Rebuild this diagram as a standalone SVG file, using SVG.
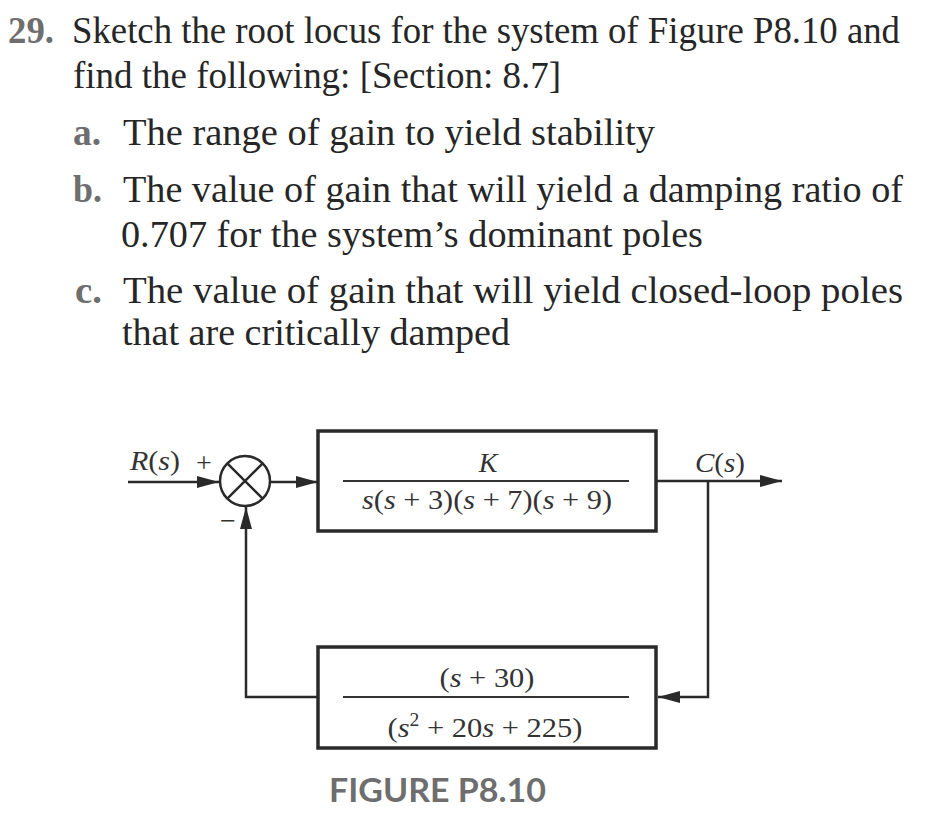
<svg xmlns="http://www.w3.org/2000/svg" width="942" height="828" viewBox="0 0 942 828">
<defs>
<style>
.t{font-family:"Liberation Serif","Times New Roman",serif;font-size:38px;fill:#262626}
.lb{font-family:"Liberation Serif","Times New Roman",serif;font-size:38px;font-weight:bold;fill:#6e6e6e}
.m{font-family:"Liberation Serif","Times New Roman",serif;font-size:28px;fill:#333}
.i{font-style:italic}
.box{fill:none;stroke:#2a2a2a;stroke-width:3.5}
.ln{fill:none;stroke:#2a2a2a;stroke-width:2.5}
.fr{stroke:#333;stroke-width:2}
.cap{font-family:Lato,"Open Sans",sans-serif;font-weight:700;font-size:32px;fill:#6e6e6e}
</style>
<marker id="ah" markerUnits="userSpaceOnUse" markerWidth="24" markerHeight="14" refX="22" refY="6" orient="auto">
<path d="M0,0 L22,6 L0,12 z" fill="#2a2a2a"/>
</marker>
</defs>
<rect width="942" height="828" fill="#fff"/>

<g id="question">
<text class="lb" x="8" y="43" textLength="46" lengthAdjust="spacingAndGlyphs">29.</text>
<text class="t" x="72" y="43" textLength="828" lengthAdjust="spacingAndGlyphs">Sketch the root locus for the system of Figure P8.10 and</text>
<text class="t" x="73" y="88" textLength="488" lengthAdjust="spacingAndGlyphs">find the following: [Section: 8.7]</text>
<text class="lb" x="73" y="145" textLength="28" lengthAdjust="spacingAndGlyphs">a.</text>
<text class="t" x="123" y="145" textLength="532" lengthAdjust="spacingAndGlyphs">The range of gain to yield stability</text>
<text class="lb" x="73" y="202" textLength="29" lengthAdjust="spacingAndGlyphs">b.</text>
<text class="t" x="123" y="202" textLength="780" lengthAdjust="spacingAndGlyphs">The value of gain that will yield a damping ratio of</text>
<text class="t" x="121" y="247" textLength="582" lengthAdjust="spacingAndGlyphs">0.707 for the system’s dominant poles</text>
<text class="lb" x="75" y="303" textLength="27" lengthAdjust="spacingAndGlyphs">c.</text>
<text class="t" x="123" y="303" textLength="780" lengthAdjust="spacingAndGlyphs">The value of gain that will yield closed-loop poles</text>
<text class="t" x="122" y="345" textLength="388" lengthAdjust="spacingAndGlyphs">that are critically damped</text>
</g>

<g id="connectors">
<path class="ln" d="M128,482 H219" marker-end="url(#ah)"/>
<path class="ln" d="M271,482 H318" marker-end="url(#ah)"/>
<path class="ln" d="M656,481 H782" marker-end="url(#ah)"/>
<path class="ln" d="M708,481 V697 H658" marker-end="url(#ah)"/>
<path class="ln" d="M318,697 H246 V507" marker-end="url(#ah)"/>
</g>

<g id="input-label">
<text class="m" x="130" y="470" textLength="50" lengthAdjust="spacingAndGlyphs"><tspan class="i">R</tspan>(<tspan class="i">s</tspan>)</text>
<text class="m" x="196" y="472">+</text>
<text class="m" x="220" y="530">−</text>
</g>

<g id="sum">
<circle cx="245" cy="481" r="25" fill="#fff" stroke="#2a2a2a" stroke-width="2.5"/>
<path class="ln" d="M227.3,463.3 L262.7,498.7 M262.7,463.3 L227.3,498.7"/>
</g>

<g id="plant">
<rect class="box" x="318" y="431" width="338" height="100" fill="#fff"/>
<text class="m i" x="488" y="472" text-anchor="middle">K</text>
<line class="fr" x1="343" y1="481" x2="629" y2="481"/>
<text class="m" x="487" y="509" text-anchor="middle" textLength="250" lengthAdjust="spacingAndGlyphs"><tspan class="i">s</tspan>(<tspan class="i">s</tspan> + 3)(<tspan class="i">s</tspan> + 7)(<tspan class="i">s</tspan> + 9)</text>
</g>

<g id="output-label">
<text class="m" x="695" y="472" textLength="50" lengthAdjust="spacingAndGlyphs"><tspan class="i">C</tspan>(<tspan class="i">s</tspan>)</text>
</g>

<g id="feedback">
<rect class="box" x="318" y="647" width="338" height="101" fill="#fff"/>
<text class="m" x="487" y="687" text-anchor="middle" textLength="95" lengthAdjust="spacingAndGlyphs">(<tspan class="i">s</tspan> + 30)</text>
<line class="fr" x1="343" y1="697" x2="629" y2="697"/>
<text class="m" x="485" y="737" text-anchor="middle" textLength="195" lengthAdjust="spacingAndGlyphs">(<tspan class="i">s</tspan><tspan dy="-11" font-size="18">2</tspan><tspan dy="11"> + 20</tspan><tspan class="i">s</tspan> + 225)</text>
</g>

<g id="caption">
<text class="cap" x="329" y="802" textLength="217" lengthAdjust="spacingAndGlyphs">FIGURE P8.10</text>
</g>
</svg>
